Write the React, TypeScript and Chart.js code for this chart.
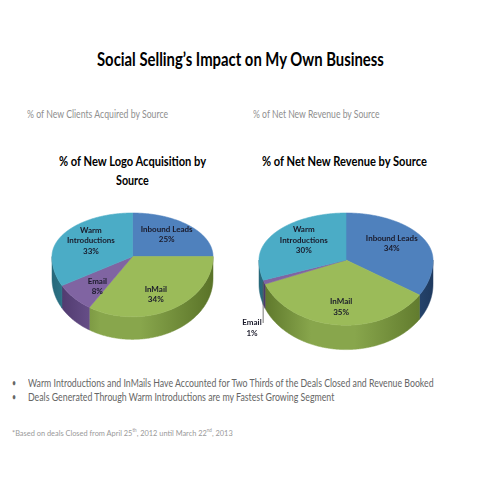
import React, { useEffect, useLayoutEffect, useRef } from 'react';
import { Chart, registerables } from 'chart.js';

Chart.register(...registerables);

// ---- data ----
const categories = ['Inbound Leads', 'InMail', 'Email', 'Warm Introductions'];
const clientsShare = [25, 34, 8, 33];
const revenueShare = [34, 35, 1, 30];
const topColors = ['#4F81BD', '#9BBB59', '#8064A2', '#4BACC6'];
const sideLight = ['#3F6DA3', '#88A64C', '#6E5590', '#3E9AB3'];
const sideDark = ['#1F3A5F', '#5A7328', '#4A3568', '#27687A'];

const FONT = 'Lato, "Open Sans", "DejaVu Sans", sans-serif';

const pie3d = {
  id: 'pie3d',
  beforeDatasetsDraw() {
    return false;
  },
  afterDraw(chart: any, _args: any, opts: any) {
    const { ctx, chartArea } = chart;
    const meta = chart.getDatasetMeta(0);
    const values: number[] = chart.data.datasets[0].data;
    const labels: string[] = chart.data.labels;
    const rx = (chartArea.right - chartArea.left) / 2;
    const cx = chartArea.left + rx;
    const ryT = rx * opts.topRatio;
    const ryB = rx * opts.bottomRatio;
    const depth = rx * opts.depthRatio;
    const cy = chartArea.top + ryT;
    const P = (t: number, f = 1): [number, number] => {
      const s = Math.sin(t);
      return [cx + f * rx * Math.cos(t), cy + f * (s < 0 ? ryT : ryB) * s];
    };
    const STEP = 0.01;
    ctx.save();
    // sides
    meta.data.forEach((arc: any, i: number) => {
      const a = Math.max(arc.startAngle, 0);
      const b = Math.min(arc.endAngle, Math.PI);
      if (b <= a) return;
      ctx.beginPath();
      let p = P(a);
      ctx.moveTo(p[0], p[1]);
      for (let t = a; t < b; t += STEP) {
        p = P(t);
        ctx.lineTo(p[0], p[1]);
      }
      p = P(b);
      ctx.lineTo(p[0], p[1]);
      ctx.lineTo(p[0], p[1] + depth);
      for (let t = b; t > a; t -= STEP) {
        p = P(t);
        ctx.lineTo(p[0], p[1] + depth);
      }
      p = P(a);
      ctx.lineTo(p[0], p[1] + depth);
      ctx.closePath();
      const g = ctx.createLinearGradient(cx - rx, 0, cx + rx, 0);
      g.addColorStop(0, sideDark[i]);
      g.addColorStop(0.3, sideLight[i]);
      g.addColorStop(0.55, sideLight[i]);
      g.addColorStop(1, sideDark[i]);
      ctx.fillStyle = g;
      ctx.fill();
      ctx.strokeStyle = g;
      ctx.lineWidth = 0.5;
      ctx.stroke();
    });
    // tops
    meta.data.forEach((arc: any, i: number) => {
      const a = arc.startAngle;
      const b = arc.endAngle;
      ctx.beginPath();
      ctx.moveTo(cx, cy);
      for (let t = a; t < b; t += STEP) {
        const p = P(t);
        ctx.lineTo(p[0], p[1]);
      }
      const pe = P(b);
      ctx.lineTo(pe[0], pe[1]);
      ctx.closePath();
      ctx.fillStyle = topColors[i];
      ctx.fill();
      ctx.strokeStyle = topColors[i];
      ctx.lineWidth = 0.6;
      ctx.stroke();
    });
    // labels
    ctx.font = `bold ${opts.fontSize}px ${FONT}`;
    ctx.fillStyle = '#1a1a2a';
    ctx.textAlign = 'center';
    ctx.textBaseline = 'middle';
    const lh = opts.fontSize * 1.3;
    meta.data.forEach((arc: any, i: number) => {
      const mid = (arc.startAngle + arc.endAngle) / 2;
      const name = labels[i];
      const lines = name.length > 14 ? name.split(' ') : [name];
      lines.push(values[i] + '%');
      const s = Math.sin(mid);
      if (values[i] < 3) {
        const anchor = P(mid);
        const lineX = anchor[0] - 1;
        const endY = anchor[1] + rx * 0.47;
        ctx.beginPath();
        ctx.moveTo(lineX, anchor[1]);
        ctx.lineTo(lineX, endY);
        ctx.strokeStyle = '#555';
        ctx.lineWidth = 0.8;
        ctx.stroke();
        const wMax = Math.max(...lines.map((ln) => ctx.measureText(ln).width));
        const lx = lineX - 1.5 - wMax / 2;
        lines.forEach((ln, k) => ctx.fillText(ln, lx, endY - 1 + k * 11.5));
        return;
      }
      const x = cx + opts.fx * rx * Math.cos(mid);
      const y = cy + opts.fy * (s < 0 ? ryT : ryB) * s;
      const y0 = y - ((lines.length - 1) * lh) / 2;
      lines.forEach((ln, k) => ctx.fillText(ln, x, y0 + k * lh));
    });
    ctx.restore();
  },
};

function Pie3D({ values, left, top, pad }: { values: number[]; left: number; top: number; pad: any }) {
  const ref = useRef<HTMLCanvasElement>(null);
  useEffect(() => {
    if (!ref.current) return;
    const chart = new Chart(ref.current, {
      type: 'pie',
      data: {
        labels: categories,
        datasets: [{ data: values, backgroundColor: topColors, borderWidth: 0 }],
      },
      options: {
        animation: false,
        responsive: false,
        maintainAspectRatio: false,
        events: [],
        layout: { padding: pad },
        plugins: {
          legend: { display: false },
          tooltip: { enabled: false },
          title: { display: false },
          // @ts-ignore
          pie3d: { topRatio: 0.54, bottomRatio: 0.75, depthRatio: 0.28, fx: 0.6, fy: 0.72, fontSize: 8 },
        },
      } as any,
      plugins: [pie3d as any],
    });
    return () => chart.destroy();
  }, []);
  return (
    <canvas
      ref={ref}
      width={240}
      height={170}
      style={{ position: 'absolute', left, top, width: 240, height: 170 }}
    />
  );
}

function FitText({
  x, y, w, align = 'left', size, bold = false, color = '#000', children,
}: any) {
  const ref = useRef<HTMLSpanElement>(null);
  useLayoutEffect(() => {
    const fit = () => {
      const el = ref.current;
      if (!el) return;
      el.style.transform = 'none';
      const nat = el.offsetWidth;
      if (nat > 0) el.style.transform = `scaleX(${w / nat})`;
    };
    fit();
    (document as any).fonts?.ready?.then(fit);
  }, []);
  const lh = size * 1.3;
  return (
    <span
      ref={ref}
      style={{
        position: 'absolute',
        left: align === 'center' ? x - w / 2 : x,
        top: y - lh / 2,
        fontSize: size,
        lineHeight: `${lh}px`,
        fontWeight: bold ? 700 : 400,
        color,
        fontFamily: FONT,
        whiteSpace: 'nowrap',
        transformOrigin: '0 50%',
        display: 'inline-block',
      }}
    >
      {children}
    </span>
  );
}

export default function App() {
  return (
    <div
      style={{
        position: 'fixed',
        left: 0,
        top: 0,
        width: 480,
        height: 480,
        background: '#fff',
        overflow: 'hidden',
      }}
    >
      <FitText x={240} y={60} w={287} align="center" size={18} bold>
        Social Selling’s Impact on My Own Business
      </FitText>
      <FitText x={27} y={115} w={141} size={10.5} color="#8f8f8f">
        % of New Clients Acquired by Source
      </FitText>
      <FitText x={253} y={115} w={127} size={10.5} color="#8f8f8f">
        % of Net New Revenue by Source
      </FitText>
      <FitText x={132} y={161} w={147} align="center" size={14} bold>
        % of New Logo Acquisition by
      </FitText>
      <FitText x={132} y={180} w={33} align="center" size={14} bold>
        Source
      </FitText>
      <FitText x={344} y={161} w={165} align="center" size={14} bold>
        % of Net New Revenue by Source
      </FitText>

      <Pie3D values={clientsShare} left={0} top={190} pad={{ left: 52, right: 27, top: 23, bottom: 0 }} />
      <Pie3D values={revenueShare} left={240} top={190} pad={{ left: 19, right: 47, top: 23, bottom: 0 }} />

      <FitText x={12} y={384} w={4} size={10.5} color="#666">•</FitText>
      <FitText x={28} y={384} w={406} size={10.5} color="#666">
        Warm Introductions and InMails Have Accounted for Two Thirds of the Deals Closed and Revenue Booked
      </FitText>
      <FitText x={12} y={398} w={4} size={10.5} color="#666">•</FitText>
      <FitText x={28} y={398} w={306} size={10.5} color="#666">
        Deals Generated Through Warm Introductions are my Fastest Growing Segment
      </FitText>
      <FitText x={12} y={430} w={221} size={8} color="#999">
        *Based on deals Closed from April 25<sup style={{ fontSize: 5 }}>th</sup>, 2012 until March 22
        <sup style={{ fontSize: 5 }}>nd</sup>, 2013
      </FitText>
    </div>
  );
}
